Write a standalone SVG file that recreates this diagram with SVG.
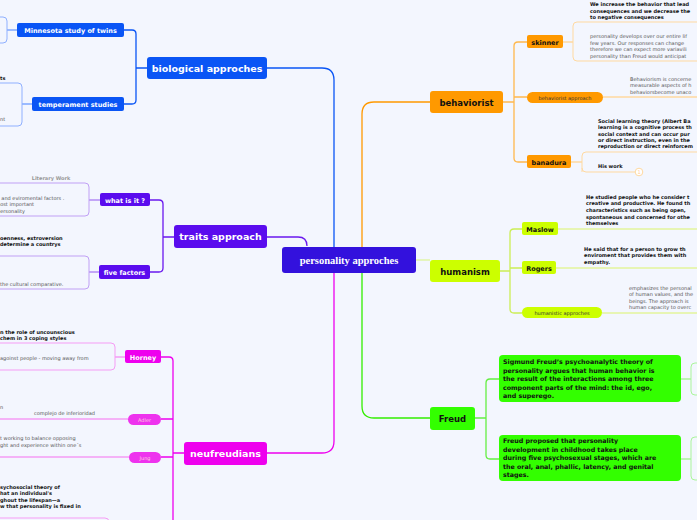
<svg xmlns="http://www.w3.org/2000/svg" width="697" height="520" viewBox="0 0 697 520">
<style>
text{font-family:"DejaVu Sans","Verdana",sans-serif}
.c{fill:none;stroke-width:1.3}
.w{fill:#fff;font-weight:bold;text-anchor:middle}
.k{fill:#111;font-weight:bold;text-anchor:middle}
.s{font-size:5px;fill:#555}
.b{font-size:5px;fill:#111;font-weight:bold}
.ob{fill:none;stroke-width:1;rx:4}
</style>
<rect width="697" height="520" fill="#f3f6fe"/>
<g id="connectors">
<path class="c" stroke="#0a55f5" d="M267,68 H322 Q334,68 334,80 V247"/>
<path class="c" stroke="#0a55f5" d="M124,30 H132 Q136,30 136,34 V100 Q136,104 132,104 H124 M136,68 H147"/>
<path class="c" stroke="#7fa8ff" d="M7,30 H17 M22,104 H32"/>
<path class="c" stroke="#6a18ee" d="M267,237 H298 Q307,237 307,246"/>
<path class="c" stroke="#6a18ee" d="M150,200 H159 Q163,200 163,204 V268 Q163,272 159,272 H150 M163,237 H174"/>
<path class="c" stroke="#b48cf5" d="M89,200 H100 M89,272 H99"/>
<path class="c" stroke="#ee00ee" d="M267,453 H322 Q334,453 334,441 V273"/>
<path class="c" stroke="#ee00ee" d="M161,357 H169 Q173,357 173,361 V520 M161,419 H173 M161,457 H173 M173,453 H184"/>
<path class="c" stroke="#f59cf5" d="M115,357 H125 M0,419 H128 M0,457 H129"/>
<path class="c" stroke="#ff9900" d="M362,247 V114 Q362,102 374,102 H430"/>
<path class="c" stroke="#33ee00" d="M362,273 V406 Q362,418 374,418 H430"/>
<path class="c" stroke="#ddf59a" d="M416,260 H430"/>
<path class="c" stroke="#ffb84d" d="M503,102 H514 M527,42 H518 Q514,42 514,46 V158 Q514,162 518,162 H527 M514,97 H527"/>
<path class="c" stroke="#ffd9a0" d="M563,42 H573 M603,97 H697 M571,162 H582"/>
<path class="c" stroke="#ccee55" d="M500,271 H510 M522,229 H514 Q510,229 510,233 V309 Q510,313 514,313 H522 M510,268 H522"/>
<path class="c" stroke="#e4f59c" d="M558,229 H697 M556,268 H697 M602,313 H697"/>
<path class="c" stroke="#66ee44" d="M475,418 H486 M499,379 H490 Q486,379 486,383 V455 Q486,459 490,459 H499"/>
<path class="c" stroke="#aaf59a" d="M681,379 H691 M681,459 H691"/>
</g>
<g id="center"><rect x="282" y="247" width="134" height="26" rx="3" fill="#3311dd"/><text x="349" y="264" text-anchor="middle" font-family="Liberation Serif,serif" style="font-family:'Liberation Serif',serif" font-size="10.5" font-weight="bold" fill="#fff">personality approches</text></g>
<g id="bio"><rect x="147" y="57" width="120" height="22" rx="3" fill="#0a55f5"/><text class="w" x="207" y="71.5" font-size="9.5">biological approches</text></g>
<g id="minnesota"><rect x="17" y="23" width="107" height="14" rx="2" fill="#0a55f5"/><text class="w" x="70.5" y="33" font-size="6.5">Minnesota study of twins</text><rect x="-10" y="17" width="17" height="26" rx="4" fill="none" stroke="#8fb0ff"/></g>
<g id="temperament"><rect x="32" y="97" width="92" height="14" rx="2" fill="#0a55f5"/><text class="w" x="78" y="107" font-size="6.5">temperament studies</text><rect x="-10" y="83" width="32" height="43" rx="4" fill="none" stroke="#8fb0ff"/><text class="b" x="0" y="80">ts</text><text class="s" x="0" y="121">nt</text></g>
<g id="traits"><rect x="174" y="225" width="93" height="23" rx="3" fill="#5a0cee"/><text class="w" x="220.5" y="240" font-size="9.5">traits approach</text></g>
<g id="whatisit"><rect x="100" y="193" width="50" height="13" rx="2" fill="#5a0cee"/><text class="w" x="125" y="203" font-size="6.5">what is it ?</text><rect x="-10" y="183" width="99" height="33" rx="4" fill="none" stroke="#c0a0f5"/><text x="51" y="180" font-size="5" fill="#999" font-weight="bold" text-anchor="middle">Literary Work</text><text class="s" x="-3" y="200">c and eviromental factors .</text><text class="s" x="-3" y="206">nost important</text><text class="s" x="-3" y="213">personality</text><text class="b" x="0" y="240">oenness, extroversion</text><text class="b" x="0" y="246">determine a countrys</text></g>
<g id="fivefactors"><rect x="99" y="265" width="51" height="14" rx="2" fill="#5a0cee"/><text class="w" x="124.5" y="275" font-size="6.5">five factors</text><rect x="-10" y="256" width="99" height="33" rx="4" fill="none" stroke="#c0a0f5"/><text class="s" x="0" y="286">the cultural comparative.</text></g>
<g id="neufreudians"><rect x="184" y="442" width="83" height="23" rx="3" fill="#ee00ee"/><text class="w" x="225.5" y="457" font-size="9.5">neufreudians</text></g>
<g id="horney"><rect x="125" y="350" width="36" height="13" rx="2" fill="#ee00ee"/><text class="w" x="143" y="360" font-size="6.5">Horney</text><rect x="-10" y="343" width="125" height="27" rx="4" fill="none" stroke="#f59cf5"/><text class="b" x="0" y="334">n the role of uncounscious</text><text class="b" x="0" y="340">chem in 3 coping styles</text><text class="s" x="0" y="360">agoinst people - moving away from</text></g>
<g id="adler"><rect x="128" y="414" width="33" height="11" rx="5.5" fill="#ee33ee"/><text x="144.5" y="421.5" font-size="5" fill="#fcd" text-anchor="middle">Adler</text><text class="s" x="0" y="409">n</text><text class="s" x="34" y="415">complejo de inferioridad</text></g>
<g id="jung"><rect x="129" y="452" width="32" height="11" rx="5.5" fill="#ee33ee"/><text x="145" y="459.5" font-size="5" fill="#fcd" text-anchor="middle">Jung</text><text class="s" x="0" y="440">t working to balance opposing</text><text class="s" x="0" y="447">ght and experience within one´s</text></g>
<g id="erikson"><text class="b" x="0" y="489">sychosocial theory of</text><text class="b" x="0" y="495">hat an individual's</text><text class="b" x="0" y="502">ghout the lifespan—a</text><text class="b" x="0" y="508">w that personality is fixed in</text><rect x="-10" y="518" width="119" height="20" rx="4" fill="none" stroke="#f59cf5"/></g>
<g id="behaviorist"><rect x="430" y="91" width="73" height="22" rx="3" fill="#ff9900"/><text class="k" x="466.5" y="106" font-size="8.5">behaviorist</text></g>
<g id="skinner"><rect x="527" y="35" width="36" height="13" rx="2" fill="#ff9900"/><text class="k" x="545" y="45" font-size="6.5">skinner</text><text class="b" x="590" y="6">We increase the behavior that lead</text><text class="b" x="590" y="13">consequences and we decrease the</text><text class="b" x="590" y="19">to negative consequences</text><rect x="573" y="22" width="140" height="39" rx="4" fill="none" stroke="#ffd9a0"/><text class="s" x="590" y="38">personality develops over our entire lif</text><text class="s" x="590" y="45">few years. Our responses can change</text><text class="s" x="590" y="51">therefore we can expect more variavili</text><text class="s" x="590" y="58">personality than Freud would anticipat</text></g>
<g id="behapproach"><rect x="527" y="92" width="76" height="11" rx="5.5" fill="#ff9900"/><text x="565" y="99.5" font-size="5" fill="#333" text-anchor="middle">behaviorist approach</text><text class="s" x="630" y="81">Behaviorism is concerne</text><text class="s" x="630" y="87">measurable aspects of h</text><text class="s" x="630" y="94">behaviorsbecome unaco</text></g>
<g id="banadura"><rect x="527" y="155" width="44" height="13" rx="2" fill="#ff9900"/><text class="k" x="549" y="165" font-size="6.5">banadura</text><text class="b" x="598" y="123">Social learning theory (Albert Ba</text><text class="b" x="598" y="129">learning is a cognitive process th</text><text class="b" x="598" y="136">social context and can occur pur</text><text class="b" x="598" y="142">or direct instruction, even in the</text><text class="b" x="598" y="148">reproduction or direct reinforcem</text><path d="M582,172 V156 Q582,152 586,152 H697 M582,168 Q582,172 586,172 H635" fill="none" stroke="#ffd9a0"/><text class="b" x="598" y="168">His work</text><circle cx="639" cy="172" r="3.8" fill="#fff" stroke="#ffd9a0"/><text x="639" y="174" font-size="5" fill="#fc9" text-anchor="middle">1</text></g>
<g id="humanism"><rect x="430" y="260" width="70" height="22" rx="3" fill="#ccff00"/><text class="k" x="465" y="275" font-size="8.5">humanism</text></g>
<g id="maslow"><rect x="522" y="222" width="36" height="13" rx="2" fill="#ccff00"/><text class="k" x="540" y="232" font-size="6.5">Maslow</text><text class="b" x="586" y="199">He studied people who he consider t</text><text class="b" x="586" y="205">creative and productive. He found th</text><text class="b" x="586" y="212">characteristics such as being open,</text><text class="b" x="586" y="219">spontaneous and concerned for othe</text><text class="b" x="586" y="225">themselves</text></g>
<g id="rogers"><rect x="522" y="261" width="34" height="13" rx="2" fill="#ccff00"/><text class="k" x="539" y="271" font-size="6.5">Rogers</text><text class="b" x="584" y="251">He said that for a person to grow  th</text><text class="b" x="584" y="257">enviroment that provides them with</text><text class="b" x="584" y="264">empathy.</text></g>
<g id="humapproach"><rect x="522" y="307" width="80" height="11" rx="5.5" fill="#ccff00"/><text x="562" y="314.5" font-size="5" fill="#333" text-anchor="middle">humanistic approches</text><text class="s" x="629" y="290">emphasizes the personal</text><text class="s" x="629" y="296">of human values, and the</text><text class="s" x="629" y="303">beings. The approach is</text><text class="s" x="629" y="309">human capacity to overc</text></g>
<g id="freud"><rect x="430" y="407" width="45" height="23" rx="3" fill="#33ff00"/><text class="k" x="452.5" y="421.5" font-size="8.5">Freud</text></g>
<g id="freud1"><rect x="499" y="355" width="182" height="47" rx="4" fill="#33ff00"/><g class="b" style="font-size:6.3px"><text x="503" y="364">Sigmund Freud’s psychoanalytic theory of</text><text x="503" y="373">personality argues that human behavior is</text><text x="503" y="381">the result of the interactions among three</text><text x="503" y="390">component parts of the mind: the id, ego,</text><text x="503" y="398">and superego.</text></g><rect x="691" y="363" width="20" height="32" rx="4" fill="none" stroke="#aaf59a"/></g>
<g id="freud2"><rect x="499" y="435" width="182" height="46" rx="4" fill="#33ff00"/><g class="b" style="font-size:6.3px"><text x="503" y="443">Freud proposed that personality</text><text x="503" y="452">development in childhood takes place</text><text x="503" y="460">during five psychosexual stages, which are</text><text x="503" y="469">the oral, anal, phallic, latency, and genital</text><text x="503" y="477">stages.</text></g><rect x="691" y="437" width="20" height="43" rx="4" fill="none" stroke="#aaf59a"/></g>
</svg>
